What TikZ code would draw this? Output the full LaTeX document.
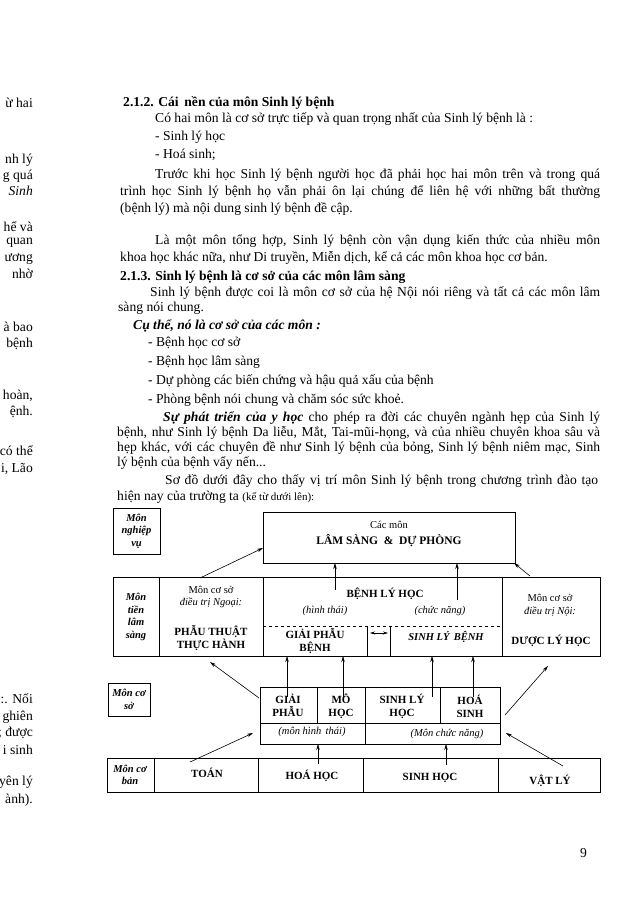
\documentclass[tikz,border=0pt]{standalone}
\usepackage{fontspec}
\setmainfont{Liberation Serif}
\usetikzlibrary{arrows.meta}
\newcommand{\jl}[2]{\makebox[#1][s]{#2}}
\begin{document}
\begin{tikzpicture}[x=1pt,y=-1pt,
  t/.style={anchor=west,inner sep=0pt,font=\fontsize{13.6}{15}\selectfont},
  m/.style={anchor=east,inner sep=0pt,font=\fontsize{13.6}{15}\selectfont},
  d/.style={inner sep=0pt,align=center,font=\fontsize{10.5}{12}\selectfont},
  db/.style={inner sep=0pt,align=center,font=\fontsize{11}{13}\selectfont\bfseries},
  dbi/.style={inner sep=0pt,align=center,font=\fontsize{10.5}{12.5}\selectfont\bfseries\itshape},
  di/.style={inner sep=0pt,align=center,font=\fontsize{10.5}{12}\selectfont\itshape},
  bx/.style={draw,line width=0.8pt},
  ar/.style={-{Stealth[length=6pt,width=3.5pt]},line width=0.6pt}]
\useasboundingbox[fill=white] (0,0) rectangle (638,907);
% left margin fragments
\node[m] (f1) at (33,103) {ừ hai};
\node[m] (f2) at (33,160) {nh lý};
\node[m] (f3) at (33,176) {g quá};
\node[m,font=\fontsize{13.6}{15}\selectfont\itshape] (f4) at (33,191) {Sinh};
\node[m] (f5) at (33,227) {hể và};
\node[m] (f6) at (33,243) {quan};
\node[m] (f7) at (33,259) {ương};
\node[m] (f8) at (33,274) {nhờ};
\node[m] (f9) at (33,327) {à bao};
\node[m] (f10) at (33,344) {bệnh};
\node[m] (f11) at (33,396) {hoàn,};
\node[m] (f12) at (33,412) {ệnh.};
\node[m] (f13) at (33,451) {có thể};
\node[m] (f14) at (33,469) {i, Lão};
\node[m] (f15) at (33,699) {:. Nối};
\node[m] (f16) at (33,717) {ghiên};
\node[m] (f17) at (33,733) {; được};
\node[m] (f18) at (33,750) {i sinh};
\node[m] (f19) at (33,782) {yên lý};
\node[m] (f20) at (33,800) {ành).};
% body text
\node[t,font=\fontsize{13.6}{15}\selectfont\bfseries] (h1) at (123,103) {2.1.2. Cái\, nền của môn Sinh lý bệnh};
\node[t] (l1) at (155,119) {Có hai môn là cơ sở trực tiếp và quan trọng nhất của Sinh lý bệnh là :};
\node[t] (l2) at (155,137) {- Sinh lý học};
\node[t] (l3) at (155,155) {- Hoá sinh;};
\node[t] (l4) at (155,175) {\jl{445pt}{Trước khi học Sinh lý bệnh người học đã phải học hai môn trên và trong quá}};
\node[t] (l5) at (120,192) {\jl{480pt}{trình học Sinh lý bệnh họ vẫn phải ôn lại chúng để liên hệ với những bất thường}};
\node[t] (l6) at (120,209) {(bệnh lý) mà nội dung sinh lý bệnh đề cập.};
\node[t] (l7) at (155,241) {\jl{445pt}{Là một môn tổng hợp, Sinh lý bệnh còn vận dụng kiến thức của nhiều môn}};
\node[t] (l8) at (120,258) {khoa học khác nữa, như Di truyền, Miễn dịch, kể cả các môn khoa học cơ bản.};
\node[t,font=\fontsize{13.6}{15}\selectfont\bfseries] (h2) at (120,277) {2.1.3. Sinh lý bệnh là cơ sở của các môn lâm sàng};
\node[t] (l9) at (150,293) {\jl{450pt}{Sinh lý bệnh được coi là môn cơ sở của hệ Nội nói riêng và tất cả các môn lâm}};
\node[t] (l10) at (118,308) {sàng nói chung.};
\node[t,font=\fontsize{13.6}{15}\selectfont\bfseries\itshape] (l11) at (133,326) {Cụ thể, nó là cơ sở của các môn :};
\node[t] (l12) at (148,343) {- Bệnh học cơ sở};
\node[t] (l13) at (148,362) {- Bệnh học lâm sàng};
\node[t] (l14) at (148,381) {- Dự phòng các biến chứng và hậu quả xấu của bệnh};
\node[t] (l15) at (148,400) {- Phòng bệnh nói chung và chăm sóc sức khoẻ.};
\node[t] (l16) at (163,418) {\jl{437pt}{\textbf{\textit{Sự phát triển của y học}} cho phép ra đời các chuyên ngành hẹp của Sinh lý}};
\node[t] (l17) at (117,433) {\jl{483pt}{bệnh, như Sinh lý bệnh Da liễu, Mắt, Tai-mũi-họng, và của nhiều chuyên khoa sâu và}};
\node[t] (l18) at (117,448) {\jl{483pt}{hẹp khác, với các chuyên đề như Sinh lý bệnh của bỏng, Sinh lý bệnh niêm mạc, Sinh}};
\node[t] (l19) at (117,463) {lý bệnh của bệnh vẩy nến...};
\node[t] (l20) at (165,481) {\jl{433pt}{Sơ đồ dưới đây cho thấy vị trí môn Sinh lý bệnh trong chương trình đào tạo}};
\node[t] (l21) at (117,497) {hiện nay của trường ta {\fontsize{11}{12}\selectfont(kể từ dưới lên):}};
\node[t] (pg) at (580,853) {9};
% ---- diagram ----
% row 1
\draw[bx] (113,508) rectangle (160,554);
\node[dbi] (nv) at (136.5,531) {Môn\\nghiệp\\vụ};
\draw[bx] (263,512) rectangle (515,563);
\node[d] (cm) at (389,525) {Các môn};
\node[db,font=\fontsize{11.5}{14}\selectfont\bfseries] (ls) at (389,541) {LÂM SÀNG \ \&\ \ DỰ PHÒNG};
\coordinate (topL) at (263,548);
\coordinate (topB1) at (335,563);
\coordinate (topB2) at (457,563);
\coordinate (topR) at (514,563);
% row 2
\draw[bx] (113,577) rectangle (600,656);
\draw[bx] (159,577) -- (159,656);
\draw[bx] (263,577) -- (263,656);
\draw[bx] (502,577) -- (502,656);
\draw[dashed,line width=0.6pt] (263,626) -- (502,626);
\draw[bx] (367,626) -- (367,656);
\draw[bx] (390,626) -- (390,656);
\node[dbi] (tls) at (136,617) {Môn\\tiền\\lâm\\sàng};
\node[d] (cs1) at (211,590) {Môn cơ sở};
\node[di] (dtn) at (211,603) {điều trị Ngoại:};
\node[db] (pt) at (211,638) {PHẪU THUẬT\\THỰC HÀNH};
\node[db] (bl) at (385,594) {BỆNH LÝ HỌC};
\node[di] (ht) at (325,611) {(hình thái)};
\node[di] (cn) at (440,611) {(chức năng)};
\node[db] (gpb) at (315,641) {GIẢI PHẪU\\BỆNH};
\node[dbi] (slb) at (446,637) {SINH LÝ\, BỆNH};
\node[d] (cs2) at (550,598) {Môn cơ sở};
\node[di] (dtno) at (550,612) {điều trị Nội:};
\node[db] (dl) at (551,641) {DƯỢC LÝ HỌC};
\coordinate (dA) at (370,633);
\coordinate (dB) at (388,633);
\draw[{Stealth[length=5pt,width=3pt]}-{Stealth[length=5pt,width=3pt]},line width=0.6pt] (dA) -- (dB);
\coordinate (r2L) at (200,578);
\coordinate (r2a) at (335,590);
\coordinate (r2b) at (457,600);
\coordinate (r2R) at (530,576);
\draw[ar] (r2L) -- (topL);
\draw[ar] (r2a) -- (topB1);
\draw[ar] (r2b) -- (topB2);
\draw[ar] (r2R) -- (topR);
% row 3
\draw[bx] (108,683) rectangle (150,716);
\node[dbi] (cs3) at (129,699.5) {Môn cơ\\sở};
\draw[bx] (260,687) rectangle (500,744);
\draw[bx] (260,723) -- (500,723);
\draw[bx] (317,687) -- (317,723);
\draw[bx] (365,687) -- (365,744);
\draw[bx] (440,687) -- (440,723);
\node[db] (gp) at (288,705) {GIẢI\\PHẪU};
\node[db] (mh) at (341,706) {MÔ\\HỌC};
\node[db] (slh) at (402,706) {SINH LÝ\\HỌC};
\node[db] (hs) at (470,706) {HOÁ\\SINH};
\node[di] (mht) at (312,732) {(môn hình\, thái)};
\node[di] (mcn) at (447,734) {(Môn chức năng)};
\coordinate (a1s) at (287,697); \coordinate (a1e) at (287,656);
\coordinate (a2s) at (343,697); \coordinate (a2e) at (343,656);
\coordinate (a3s) at (432,697); \coordinate (a3e) at (432,656);
\coordinate (a4s) at (473,697); \coordinate (a4e) at (473,656);
\draw[ar] (a1s) -- (a1e);
\draw[ar] (a2s) -- (a2e);
\draw[ar] (a3s) -- (a3e);
\draw[ar] (a4s) -- (a4e);
\coordinate (r3L) at (259,698); \coordinate (ptB) at (210,662);
\coordinate (r3R) at (505,715); \coordinate (dlB) at (548,666);
\draw[ar] (r3L) -- (ptB);
\draw[ar] (r3R) -- (dlB);
% row 4
\draw[bx] (107,758) rectangle (600,792);
\draw[bx] (154,758) -- (154,792);
\draw[bx] (258,758) -- (258,792);
\draw[bx] (363,758) -- (363,792);
\draw[bx] (498,758) -- (498,792);
\node[dbi] (cb) at (130,775) {Môn cơ\\bản};
\node[db] (toan) at (207,773) {TOÁN};
\node[db] (hh) at (312,776) {HOÁ HỌC};
\node[db] (sh) at (430,778) {SINH HỌC};
\node[db] (vl) at (550,781) {VẬT LÝ};
\coordinate (b1s) at (190,762); \coordinate (b1e) at (253,733);
\coordinate (b2s) at (318,764); \coordinate (b2e) at (318,744);
\coordinate (b3s) at (446,765); \coordinate (b3e) at (446,744);
\coordinate (b4s) at (563,766); \coordinate (b4e) at (506,733);
\draw[ar] (b1s) -- (b1e);
\draw[ar] (b2s) -- (b2e);
\draw[ar] (b3s) -- (b3e);
\draw[ar] (b4s) -- (b4e);
\end{tikzpicture}
\end{document}
